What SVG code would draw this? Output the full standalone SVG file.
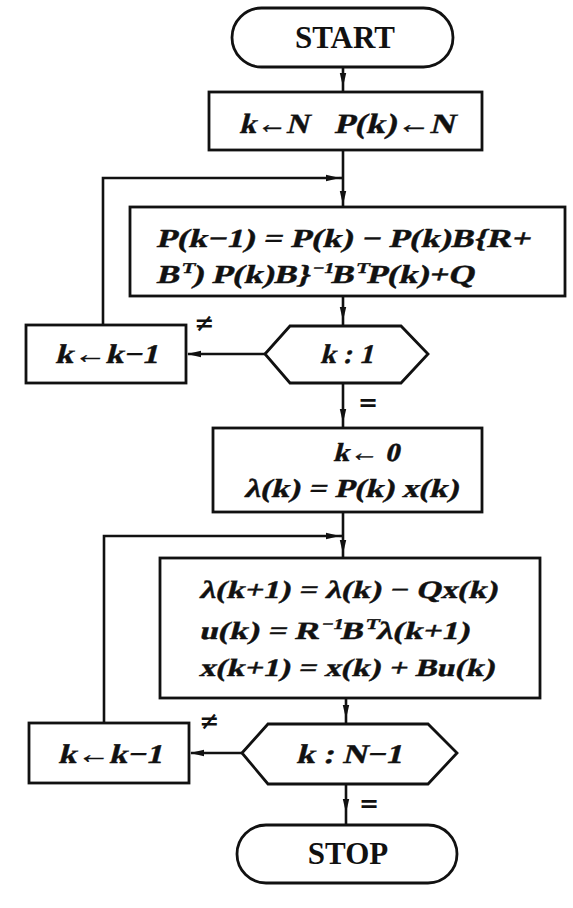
<svg xmlns="http://www.w3.org/2000/svg" width="573" height="908" viewBox="0 0 573 908">
<style>
.s{fill:#fff;stroke:#111;stroke-width:2.8}
.c{fill:none;stroke:#111;stroke-width:2.6}
.m{font-family:"Liberation Serif","Times New Roman",serif;font-weight:bold;fill:#111;stroke:#111;stroke-width:0.4}
.r{font-family:"Liberation Serif","Times New Roman",serif;font-weight:bold;fill:#111}
.lb{font-family:"DejaVu Serif","Liberation Serif",serif;font-weight:bold;fill:#111;font-size:24px;text-anchor:middle}
</style>
<defs>
<marker id="a" markerWidth="14" markerHeight="8" refX="13" refY="4" orient="auto" markerUnits="userSpaceOnUse"><path d="M0,0.8 L14,4 L0,7.2 Z" fill="#111"/></marker>
</defs>
<rect width="573" height="908" fill="#fff"/>
<g id="connectors">
<path class="c" d="M343,68 V86" marker-end="url(#a)"/><path class="c" d="M343,86 V92"/>
<path class="c" d="M343,150 V204" marker-end="url(#a)"/><path class="c" d="M343,204 V208"/>
<path class="c" d="M103,325 V178 H339" marker-end="url(#a)"/><path class="c" d="M339,178 H343"/>
<path class="c" d="M343,296 V320" marker-end="url(#a)"/><path class="c" d="M343,320 V326"/>
<path class="c" d="M265,354 H188" marker-end="url(#a)"/>
<path class="c" d="M343,383 V422" marker-end="url(#a)"/><path class="c" d="M343,422 V428"/>
<path class="c" d="M343,512 V553" marker-end="url(#a)"/><path class="c" d="M343,553 V558"/>
<path class="c" d="M104,723 V536 H339" marker-end="url(#a)"/><path class="c" d="M339,536 H343"/>
<path class="c" d="M346,698 V718" marker-end="url(#a)"/><path class="c" d="M346,718 V724"/>
<path class="c" d="M242,753 H191" marker-end="url(#a)"/>
<path class="c" d="M346,784 V812" marker-end="url(#a)"/><path class="c" d="M346,812 V825"/>
<text class="lb" x="204" y="331">≠</text>
<text class="lb" x="368" y="411">=</text>
<text class="lb" x="209" y="729">≠</text>
<text class="lb" x="369" y="812">=</text>
</g>
<g id="start">
<rect class="s" x="232" y="8" width="221" height="59" rx="29.5"/>
<text class="r" x="345" y="48" font-size="31" text-anchor="middle">START</text>
</g>
<g id="init">
<rect class="s" x="209" y="92" width="273" height="58"/>
<text class="m" transform="translate(239,133) skewX(-14)" font-size="28" textLength="69" lengthAdjust="spacingAndGlyphs">k←N</text>
<text class="m" transform="translate(334,133) skewX(-14)" font-size="28" textLength="120" lengthAdjust="spacingAndGlyphs">P(k)←N</text>
</g>
<g id="riccati">
<rect class="s" x="130" y="207" width="435" height="89"/>
<text class="m" transform="translate(156,247) skewX(-14)" font-size="26" textLength="374" lengthAdjust="spacingAndGlyphs">P(k−1) = P(k) − P(k)B{R+</text>
<text class="m" transform="translate(156,283) skewX(-14)" font-size="26" textLength="318" lengthAdjust="spacingAndGlyphs">B<tspan dy="-10" font-size="15">T</tspan><tspan dy="10">) P(k)B}</tspan><tspan dy="-10" font-size="15">−1</tspan><tspan dy="10">B</tspan><tspan dy="-10" font-size="15">T</tspan><tspan dy="10">P(k)+Q</tspan></text>
</g>
<g id="dec1">
<rect class="s" x="26" y="325" width="160" height="58"/>
<text class="m" transform="translate(55,363) skewX(-14)" font-size="27" textLength="103" lengthAdjust="spacingAndGlyphs">k←k−1</text>
</g>
<g id="cmp1">
<polygon class="s" points="265,354 290,326 401,326 428,354 401,383 290,383"/>
<text class="m" transform="translate(320,363) skewX(-14)" font-size="27" textLength="53" lengthAdjust="spacingAndGlyphs">k : 1</text>
</g>
<g id="init2">
<rect class="s" x="213" y="428" width="269" height="84"/>
<text class="m" transform="translate(333,461) skewX(-14)" font-size="26" textLength="66" lengthAdjust="spacingAndGlyphs">k← 0</text>
<text class="m" transform="translate(244,497) skewX(-14)" font-size="26" textLength="214" lengthAdjust="spacingAndGlyphs">λ(k) = P(k) x(k)</text>
</g>
<g id="forward">
<rect class="s" x="160" y="558" width="380" height="140"/>
<text class="m" transform="translate(199,598) skewX(-14)" font-size="25" textLength="298" lengthAdjust="spacingAndGlyphs">λ(k+1) = λ(k) − Qx(k)</text>
<text class="m" transform="translate(199,639) skewX(-14)" font-size="25" textLength="270" lengthAdjust="spacingAndGlyphs">u(k) = R<tspan dy="-10" font-size="15">−1</tspan><tspan dy="10">B</tspan><tspan dy="-10" font-size="15">T</tspan><tspan dy="10">λ(k+1)</tspan></text>
<text class="m" transform="translate(199,676) skewX(-14)" font-size="25" textLength="295" lengthAdjust="spacingAndGlyphs">x(k+1) = x(k) + Bu(k)</text>
</g>
<g id="dec2">
<rect class="s" x="29" y="723" width="160" height="60"/>
<text class="m" transform="translate(58,763) skewX(-14)" font-size="27" textLength="104" lengthAdjust="spacingAndGlyphs">k←k−1</text>
</g>
<g id="cmp2">
<polygon class="s" points="242,753 268,724 428,724 457,753 428,784 268,784"/>
<text class="m" transform="translate(296,763) skewX(-14)" font-size="27" textLength="106" lengthAdjust="spacingAndGlyphs">k : N−1</text>
</g>
<g id="stop">
<rect class="s" x="237" y="825" width="220" height="58" rx="29"/>
<text class="r" x="348" y="864" font-size="31" text-anchor="middle">STOP</text>
</g>
</svg>
